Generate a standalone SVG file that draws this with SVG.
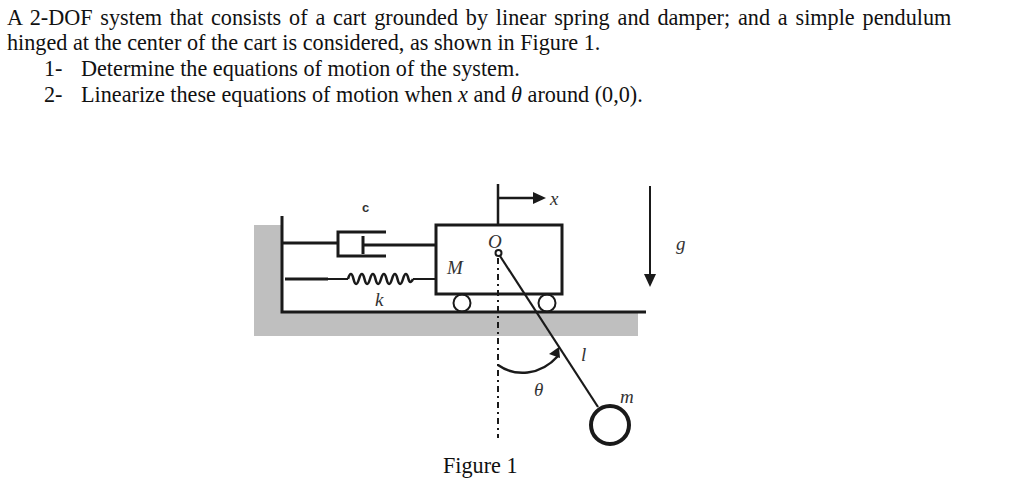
<svg xmlns="http://www.w3.org/2000/svg" width="1024" height="499" viewBox="0 0 1024 499">
<style>
.t{font-family:"Liberation Serif","Times New Roman",serif;font-size:22.2px;fill:#111}
.i{font-family:"Liberation Serif","Times New Roman",serif;font-style:italic;font-size:19px;fill:#333}
.l{fill:none;stroke:#1a1a1a;stroke-width:3}
.m{fill:none;stroke:#1a1a1a;stroke-width:2}
.h{fill:#1a1a1a}
</style>
<rect width="1024" height="499" fill="#fff"/>
<g id="text">
<text class="t" x="7" y="25" word-spacing="2.3">A 2-DOF system that consists of a cart grounded by linear spring and damper; and a simple pendulum</text>
<text class="t" x="7" y="50">hinged at the center of the cart is considered, as shown in Figure 1.</text>
<text class="t" x="44" y="76">1-</text>
<text class="t" x="81" y="76">Determine the equations of motion of the system.</text>
<text class="t" x="44" y="102">2-</text>
<text class="t" x="81" y="102">Linearize these equations of motion when <tspan font-style="italic">x</tspan> and <tspan font-style="italic">θ</tspan> around (0,0).</text>
<text class="t" x="443" y="473">Figure 1</text>
</g>
<g id="ground">
<path d="M254 225H282V312H638V336H254Z" fill="#bfbfbf"/>
<path class="l" d="M282 216V312H646"/>
</g>
<g id="connectors">
<g id="damper">
<path class="l" d="M282 243H338M386 232H338V256H386M363 236V254M363 245H435"/>
</g>
<g id="spring">
<path class="l" d="M285 279H328"/>
<path class="m" d="M328 279H348M413 279H435"/>
<path class="m" style="stroke-width:2.6" d="M348 279Q351 269 353.500 279Q356 289 359 279Q362 269 364.500 279Q367 289 370 279Q373 269 375.500 279Q378 289 381 279Q384 269 386.500 279Q389 289 392 279Q395 269 397.500 279Q400 289 403 279Q406 269 408.500 279Q410 285 413 279"/>
</g>
<g id="pendulum-rod">
<path class="m" style="stroke-width:2.2" d="M500 256L598 407"/>
<path stroke="#1a1a1a" stroke-width="2" stroke-dasharray="6 4 2 4" fill="none" d="M498 258V438"/>
</g>
<g id="x-arrow">
<path class="m" style="stroke-width:2.5" d="M498 184V225M498 198H536"/>
<path class="h" d="M533 192L546 198L533 204Z"/>
</g>
<g id="g-arrow">
<path class="m" d="M650 186V275"/>
<path class="h" d="M644 274H656L650 287Z"/>
</g>
<g id="theta-arc">
<path class="m" style="stroke-width:2.5" d="M498 365C515 377 540 376 558 356"/>
<path class="h" d="M549 354L559 347L560 358Z"/>
</g>
</g>
<g id="cart">
<rect class="l" x="436" y="225" width="126" height="69" fill="#fff"/>
<circle class="m" cx="462" cy="303" r="8.500" fill="#fff"/>
<circle class="m" cx="547" cy="303" r="8.500" fill="#fff"/>
<circle class="m" cx="498.500" cy="253" r="3"/>
</g>
<g id="bob">
<circle class="l" style="stroke-width:4" cx="610" cy="425" r="19" fill="#fff"/>
</g>
<g id="labels">
<text x="362" y="212" font-family="Liberation Sans,sans-serif" font-size="13" font-weight="bold" fill="#333">c</text>
<text class="i" x="375" y="306">k</text>
<text class="i" x="447" y="274">M</text>
<text class="i" x="488" y="248">O</text>
<text class="i" x="550" y="205">x</text>
<text class="i" x="676" y="250">g</text>
<text class="i" x="581" y="361">l</text>
<text class="i" x="534" y="396">θ</text>
<text class="i" x="620" y="403">m</text>
</g>
</svg>
